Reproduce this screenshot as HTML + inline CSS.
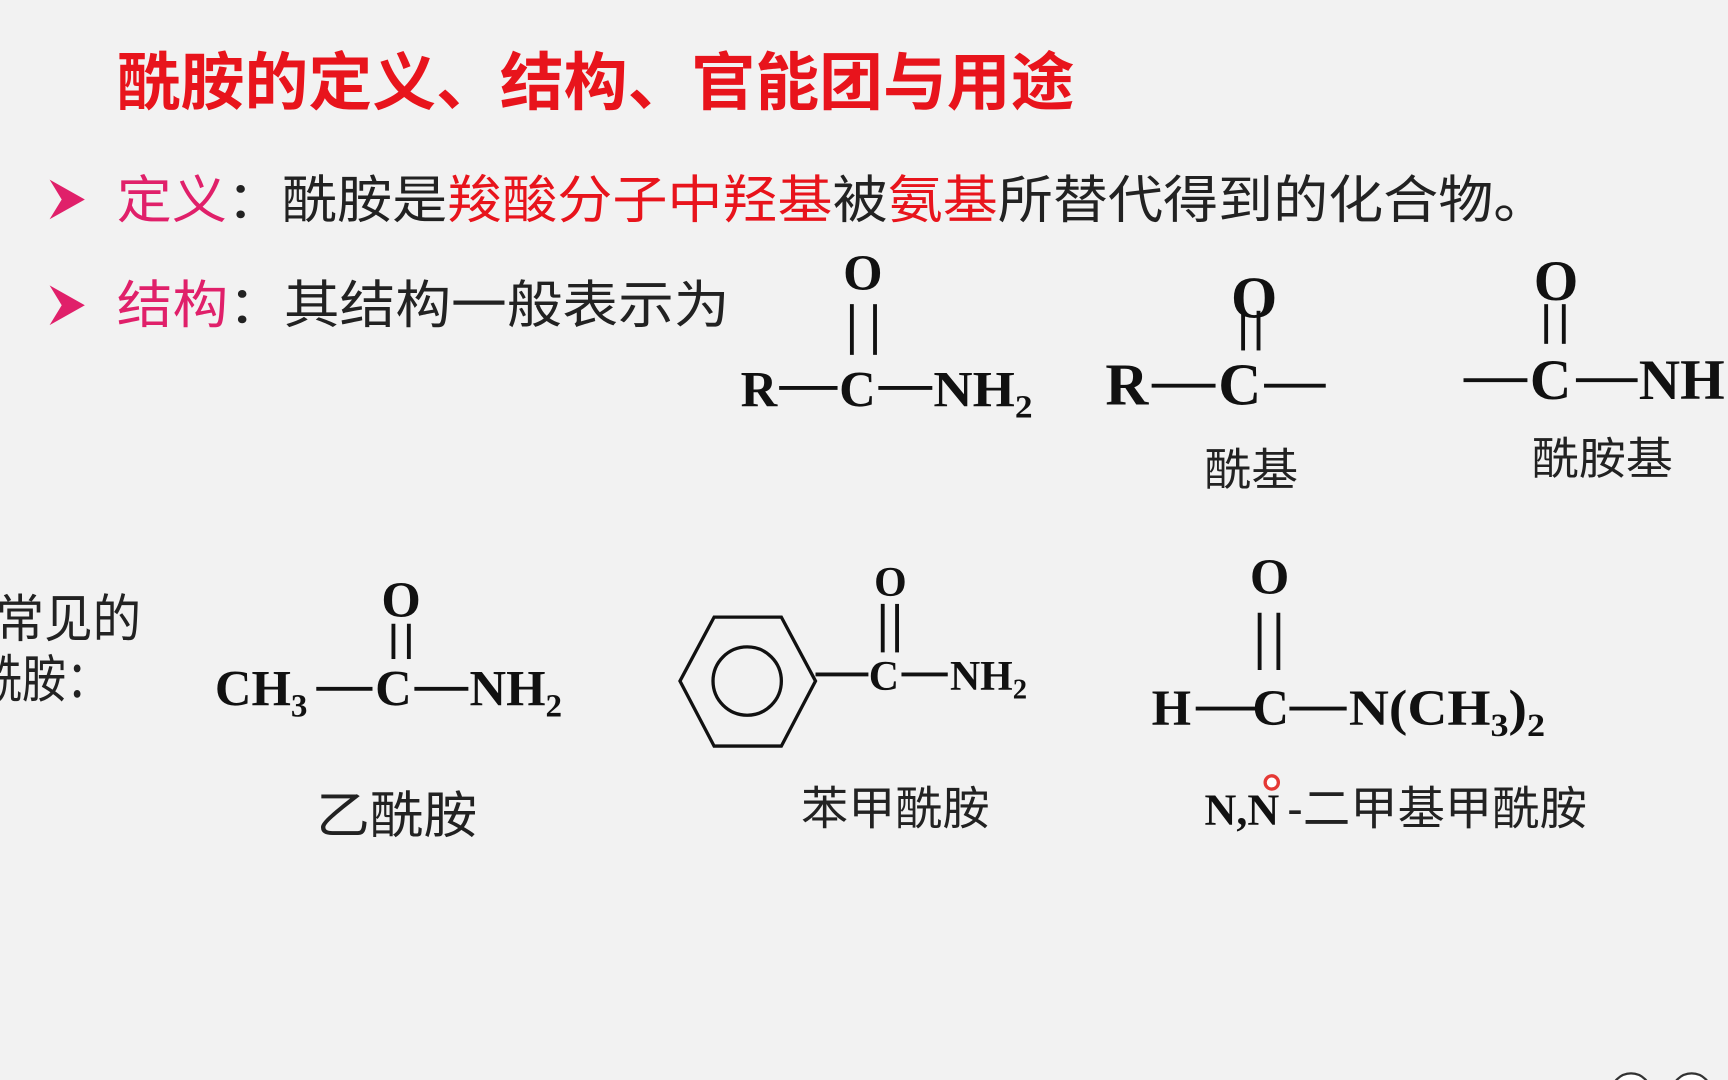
<!DOCTYPE html>
<html><head><meta charset="utf-8"><style>
html,body{margin:0;padding:0;background:#f2f2f2;width:1728px;height:1080px;overflow:hidden}
svg{display:block}
.cn{font-family:"Liberation Sans","Noto Sans CJK SC",sans-serif}
.ch{font-family:"Liberation Serif","Noto Serif CJK SC",serif;font-weight:bold;fill:#111}
</style></head><body>
<svg width="1728" height="1080" viewBox="0 0 1568 980" preserveAspectRatio="none">
<rect width="1568" height="980" fill="#f2f2f2"/>
<text x="106" y="95" class="cn" font-size="57" font-weight="bold" fill="#e8141c" textLength="869" lengthAdjust="spacingAndGlyphs">酰胺的定义、结构、官能团与用途</text>
<polygon points="45,163 77,181 45,199 56,181" fill="#e0206a"/>
<polygon points="45,259 77,277 45,295 56,277" fill="#e0206a"/>
<text x="106" y="198" class="cn" font-size="47" textLength="1299" lengthAdjust="spacingAndGlyphs"><tspan fill="#e0206a">定义</tspan><tspan fill="#222">：酰胺是</tspan><tspan fill="#e8141c">羧酸分子中羟基</tspan><tspan fill="#222">被</tspan><tspan fill="#e8141c">氨基</tspan><tspan fill="#222">所替代得到的化合物。</tspan></text>
<text x="106" y="293" class="cn" font-size="47" textLength="556" lengthAdjust="spacingAndGlyphs"><tspan fill="#e0206a">结构</tspan><tspan fill="#222">：其结构一般表示为</tspan></text>

<g stroke="#111" stroke-width="3.5">
<line x1="707" y1="352" x2="760" y2="352"/><line x1="797" y1="352" x2="846" y2="352"/>
<line x1="773" y1="276" x2="773" y2="322"/><line x1="794" y1="276" x2="794" y2="322"/>
<line x1="1045" y1="350" x2="1103" y2="350"/><line x1="1147" y1="350" x2="1203" y2="350"/>
<line x1="1128" y1="282" x2="1128" y2="318"/><line x1="1142" y1="282" x2="1142" y2="318"/>
<line x1="1328" y1="345" x2="1386" y2="345"/><line x1="1430" y1="345" x2="1486" y2="345"/>
<line x1="1403" y1="276" x2="1403" y2="312"/><line x1="1419" y1="276" x2="1419" y2="312"/>
<line x1="287" y1="625" x2="338" y2="625"/><line x1="376" y1="625" x2="425" y2="625"/>
<line x1="357" y1="566" x2="357" y2="598"/><line x1="371" y1="566" x2="371" y2="598"/>
<line x1="740" y1="612" x2="788" y2="612"/><line x1="818" y1="612" x2="860" y2="612"/>
<line x1="801" y1="548" x2="801" y2="592"/><line x1="814" y1="548" x2="814" y2="592"/>
<line x1="1085" y1="643" x2="1140" y2="643"/><line x1="1170" y1="643" x2="1222" y2="643"/>
<line x1="1143" y1="556" x2="1143" y2="608"/><line x1="1160" y1="556" x2="1160" y2="608"/>
</g>
<g fill="none" stroke="#111" stroke-width="3">
<polygon points="617,618 648,560 709,560 740,618 709,677 648,677"/>
<circle cx="678" cy="618" r="31"/>
</g>

<g class="ch" font-size="46">
<text x="783" y="263" text-anchor="middle">O</text>
<text x="672" y="369">R</text>
<text x="778" y="369" text-anchor="middle">C</text>
<text x="847" y="369" textLength="90" lengthAdjust="spacingAndGlyphs">NH<tspan font-size="30" dy="10">2</tspan></text>
<text x="1138" y="288" text-anchor="middle" font-size="54">O</text>
<text x="1003" y="367" font-size="54">R</text>
<text x="1125" y="367" text-anchor="middle" font-size="54">C</text>
<text x="1412" y="272" text-anchor="middle" font-size="52">O</text>
<text x="1407" y="362" text-anchor="middle" font-size="52">C</text>
<text x="1487" y="362" font-size="52">NH</text>
<text x="364" y="560" text-anchor="middle">O</text>
<text x="195" y="640">CH<tspan font-size="30" dy="10">3</tspan></text>
<text x="357" y="640" text-anchor="middle">C</text>
<text x="426" y="640">NH<tspan font-size="30" dy="10">2</tspan></text>
<text x="808" y="541" text-anchor="middle" font-size="38">O</text>
<text x="802" y="626" text-anchor="middle" font-size="38">C</text>
<text x="862" y="626" font-size="38">NH<tspan font-size="26" dy="8">2</tspan></text>
<text x="1152" y="539" text-anchor="middle">O</text>
<text x="1045" y="658">H</text>
<text x="1153" y="658" text-anchor="middle">C</text>
<text x="1224" y="658" textLength="178" lengthAdjust="spacingAndGlyphs">N(CH<tspan font-size="30" dy="10">3</tspan><tspan dy="-10">)</tspan><tspan font-size="30" dy="10">2</tspan></text>
<text x="1093" y="748" font-size="40">N,N</text>
</g>

<g class="cn" fill="#222" font-size="40">
<text x="1093" y="440" textLength="85" lengthAdjust="spacingAndGlyphs">酰基</text>
<text x="1390" y="430" textLength="128" lengthAdjust="spacingAndGlyphs">酰胺基</text>
<text x="287" y="756" font-size="46" textLength="146" lengthAdjust="spacingAndGlyphs">乙酰胺</text>
<text x="727" y="748" font-size="42" textLength="171" lengthAdjust="spacingAndGlyphs">苯甲酰胺</text>
<text x="1168" y="748" font-size="42" textLength="272" lengthAdjust="spacingAndGlyphs">-二甲基甲酰胺</text>
<text x="-4" y="578" font-size="47" textLength="132" lengthAdjust="spacingAndGlyphs">常见的</text>
<text x="-20" y="633" font-size="47" textLength="120" lengthAdjust="spacingAndGlyphs">酰胺：</text>
</g>
<circle cx="1154" cy="710" r="6" fill="#fff" stroke="#e53935" stroke-width="3"/>
<circle cx="1480" cy="992" r="18" fill="#fff" stroke="#333" stroke-width="2"/>
<circle cx="1535" cy="992" r="18" fill="#fff" stroke="#333" stroke-width="2"/>
</svg>
</body></html>
